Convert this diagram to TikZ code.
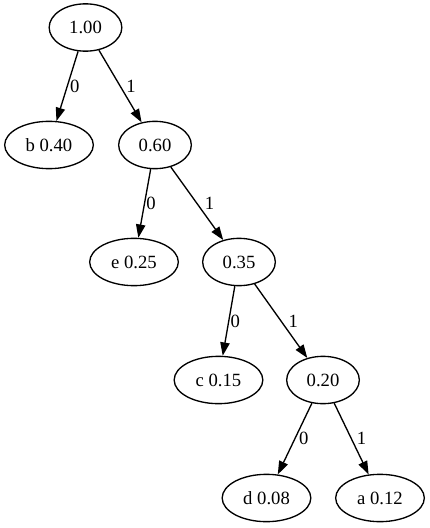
\documentclass[tikz,border=0pt]{standalone}
\usepackage{fontspec}
\setmainfont{Liberation Serif}
\usetikzlibrary{arrows.meta,shapes.geometric}
\begin{document}
\begin{tikzpicture}[x=0.75pt,y=-0.75pt,
  every node/.style={font=\fontsize{14}{16}\selectfont},
  nnode/.style={draw,ellipse,line width=1pt,inner sep=0pt,minimum width=54.5pt,minimum height=35.5pt},
  lnode/.style={draw,ellipse,line width=1pt,inner sep=0pt,minimum width=66.5pt,minimum height=35.5pt},
  arr/.style={line width=1pt,-{Triangle[length=10pt,width=7pt]}},
  elab/.style={inner sep=0pt,anchor=center}]
\useasboundingbox (0,0) rectangle (429,528);
\node[nnode] (n100) at (85.5,27.5) {1.00};
\node[lnode] (b) at (49,145) {b 0.40};
\node[nnode] (n060) at (155,145) {0.60};
\node[lnode] (e) at (134,262) {e 0.25};
\node[nnode] (n035) at (239,262) {0.35};
\node[lnode] (c) at (218.5,380) {c 0.15};
\node[nnode] (n020) at (323,380) {0.20};
\node[lnode] (d) at (266.5,498) {d 0.08};
\node[lnode] (a) at (380,498) {a 0.12};
\draw[arr] (n100) -- node[elab,xshift=7.5*0.75pt] {0} (b);
\draw[arr] (n100) -- node[elab,xshift=10.75*0.75pt] {1} (n060);
\draw[arr] (n060) -- node[elab,xshift=6.5*0.75pt] {0} (e);
\draw[arr] (n060) -- node[elab,xshift=12.5*0.75pt] {1} (n035);
\draw[arr] (n035) -- node[elab,xshift=6.5*0.75pt] {0} (c);
\draw[arr] (n035) -- node[elab,xshift=12.3*0.75pt] {1} (n020);
\draw[arr] (n020) -- node[elab,xshift=9*0.75pt] {0} (d);
\draw[arr] (n020) -- node[elab,xshift=10*0.75pt] {1} (a);
\end{tikzpicture}
\end{document}
